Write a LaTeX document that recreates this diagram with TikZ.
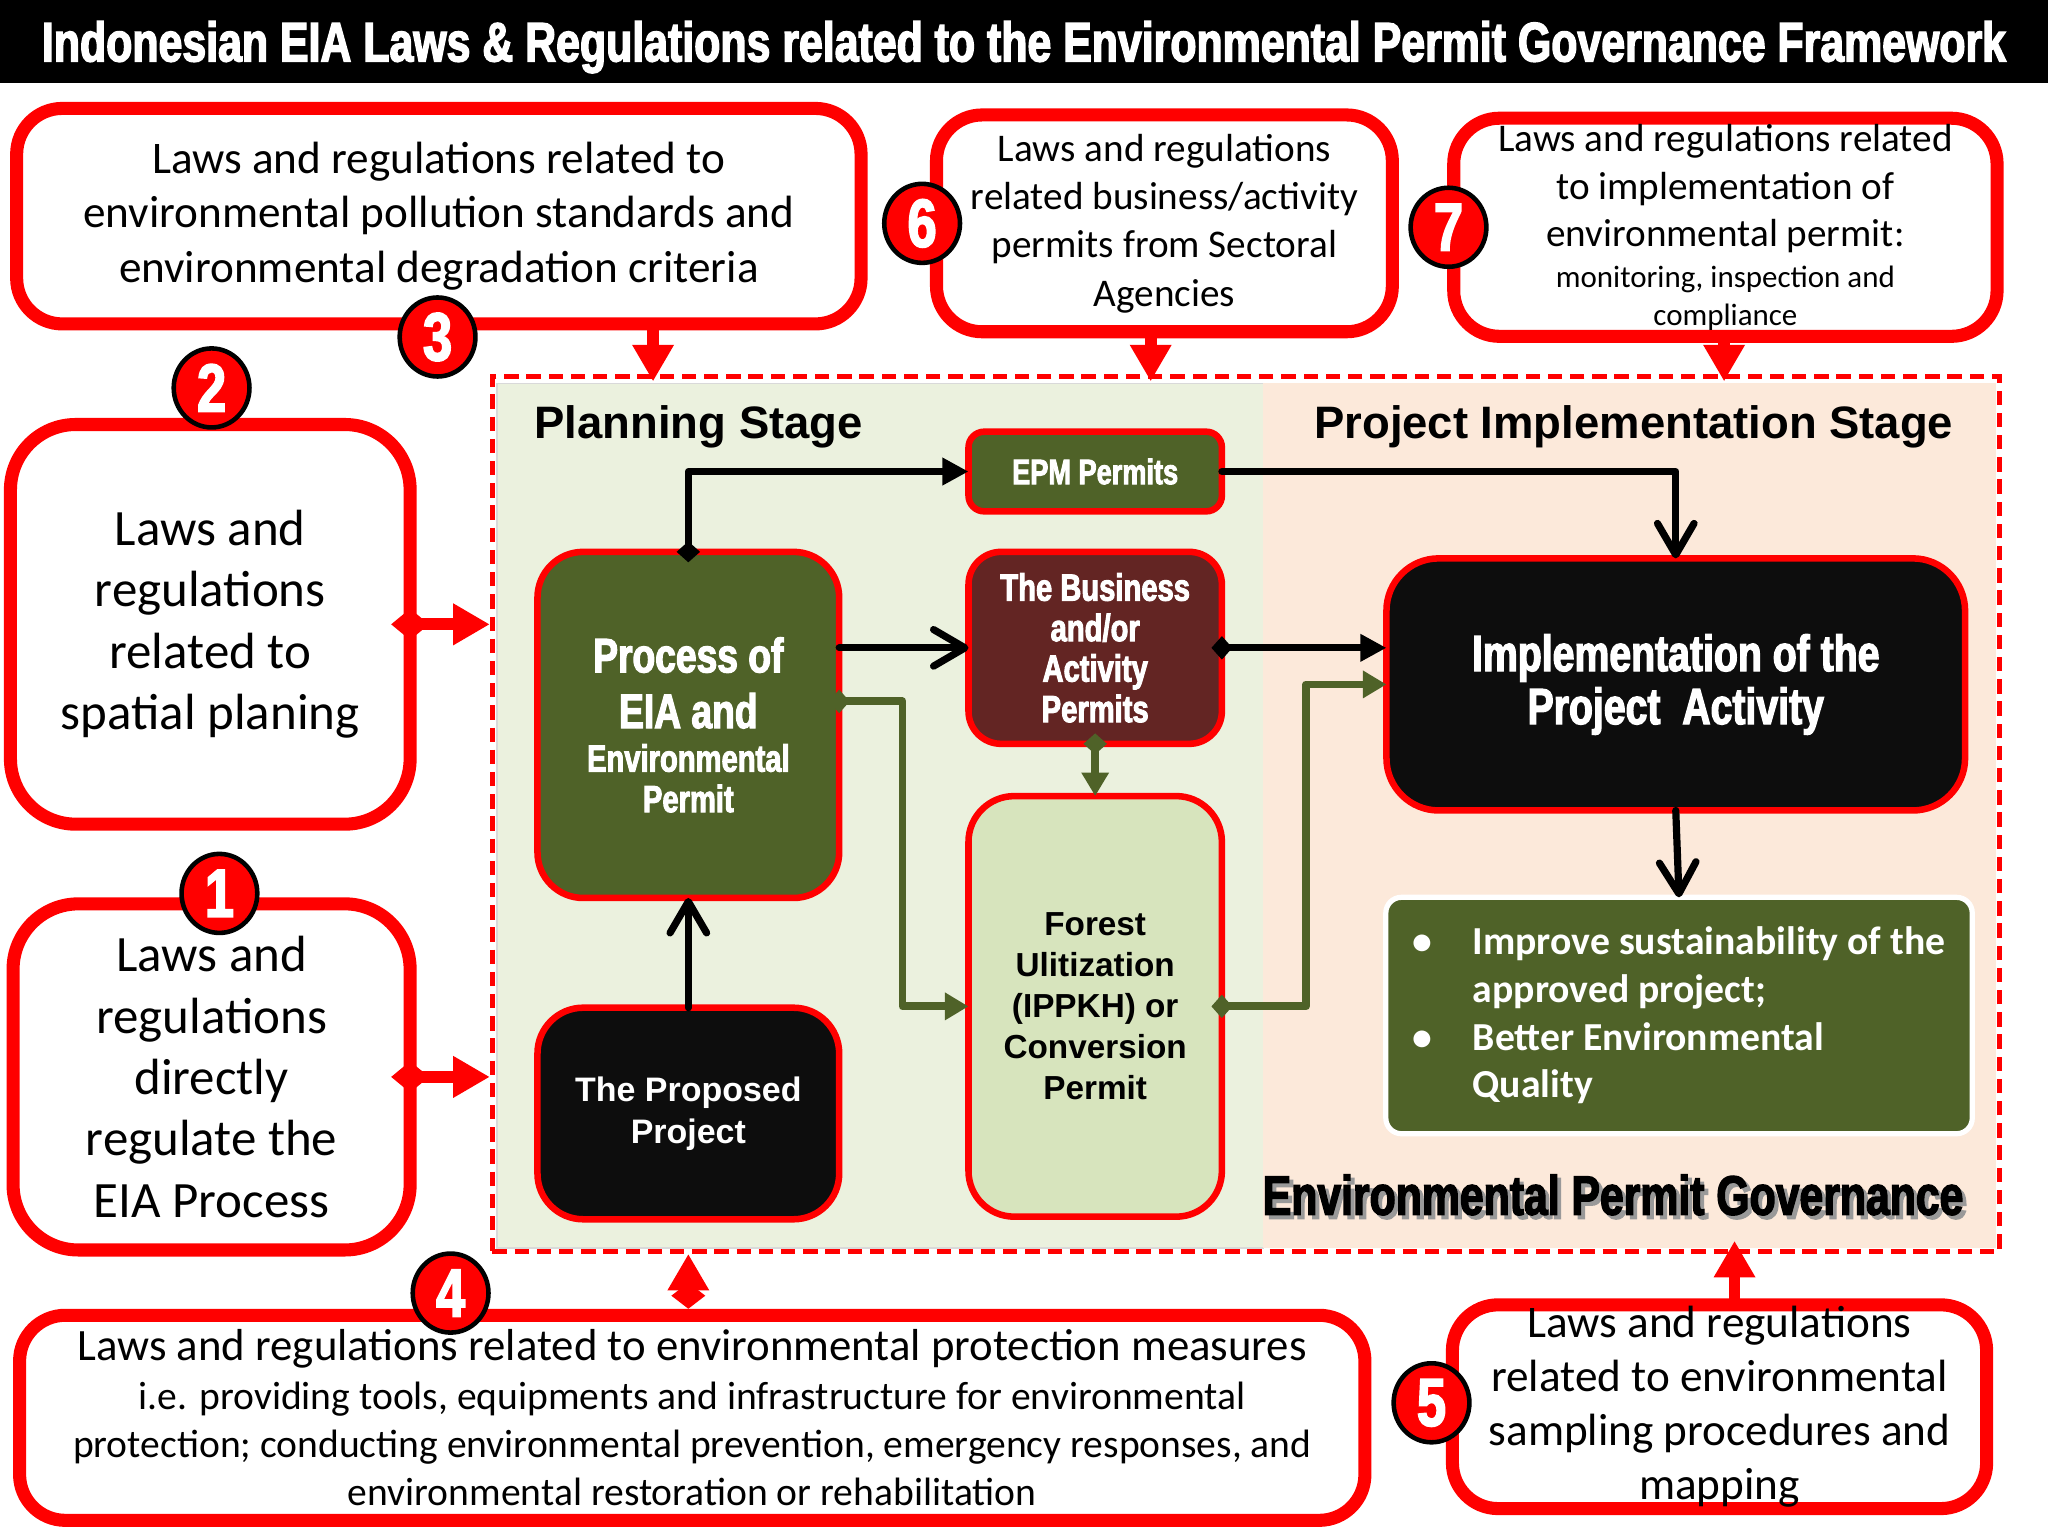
\documentclass[tikz,border=0pt]{standalone}
\usepackage{fontspec}
\setmainfont{Carlito}
\newfontfamily\imp{Liberation Sans}[FakeStretch=0.77,BoldFeatures={FakeBold=2.5}]
\newfontfamily\arl{Liberation Sans}
\usetikzlibrary{arrows.meta,shapes.geometric,calc}
\definecolor{oliv}{RGB}{79,98,40}
\definecolor{maroonc}{RGB}{99,37,35}
\definecolor{planbg}{RGB}{235,241,222}
\definecolor{implbg}{RGB}{252,233,218}
\definecolor{forestc}{RGB}{215,228,189}
\definecolor{nearblack}{RGB}{13,13,13}
\begin{document}
\begin{tikzpicture}[x=1pt,y=-1pt,
  lawbox/.style={draw=red, line width=10pt, fill=white, rounded corners=35pt, inner sep=0pt, outer sep=0pt, align=center, text=black},
  badge/.style={ellipse, draw=black, fill=red, line width=3.5pt, minimum width=58pt, minimum height=60.5pt, inner sep=0pt, outer sep=0pt, text=white, font=\imp\bfseries\fontsize{52}{52}\selectfont},
  ibox/.style={draw=red, line width=5pt, inner sep=0pt, outer sep=0pt, align=center},
  stagelbl/.style={inner sep=0pt, font=\arl\bfseries\fontsize{34.8}{40}\selectfont},
  blk/.style={draw=black, line width=5.5pt, line cap=round, line join=round},
  olv/.style={draw=oliv, line width=6pt, line join=round},
  rd/.style={draw=red, line width=9pt},
  barb/.tip={Straight Barb[length=24pt,width=28pt,round]},
  btri/.tip={Triangle[length=20pt,width=20pt]},
  bdia/.tip={Diamond[length=16pt,width=18pt]},
  otri/.tip={Triangle[length=18pt,width=20pt]},
  rtri/.tip={Triangle[length=28pt,width=30pt]},
  rdia/.tip={Diamond[length=29pt,width=24pt]}
]
\useasboundingbox (0,0) rectangle (1568,1176);
\fill[white] (0,0) rectangle (1568,1176);

% title
\node[fill=black, minimum width=1568pt, minimum height=63pt, inner sep=0pt, anchor=north west] (bar) at (0,0) {};
\node[anchor=base, inner sep=0pt, text=white, font=\imp\bfseries\fontsize{42.6}{46}\selectfont] (title) at (784,47) {Indonesian EIA Laws \& Regulations related to the Environmental Permit Governance Framework};

% stage backgrounds and frame
\node[fill=planbg, draw=black!15, line width=1pt, minimum width=587pt, minimum height=662pt, inner sep=0pt, anchor=north west] (plan) at (380,293) {};
\node[fill=implbg, minimum width=561pt, minimum height=662pt, inner sep=0pt, anchor=north west] (implbg) at (967,293) {};
\node[draw=red, line width=4pt, dash pattern=on 11pt off 6pt, minimum width=1154pt, minimum height=670pt, inner sep=0pt] (frame) at (954,623) {};

\node[stagelbl, anchor=base west] (pl) at (409,335.5) {Planning Stage};
\node[stagelbl, anchor=base west] (pil) at (1006,335.5) {Project Implementation Stage};

% law boxes
\node[lawbox, minimum width=646.5pt, minimum height=165pt, font=\fontsize{34.6}{41.5}\selectfont] (b3) at (336,165.5)
 {Laws and regulations related to\\environmental pollution standards and\\environmental degradation criteria};
\node[lawbox, minimum width=349pt, minimum height=166pt, font=\fontsize{30}{37}\selectfont] (b6) at (891.5,171)
 {Laws and regulations\\related business/activity\\permits from Sectoral\\Agencies};
\node[lawbox, minimum width=416pt, minimum height=167pt, font=\fontsize{30}{36.5}\selectfont] (b7) at (1321,174)
 {Laws and regulations related\\to implementation of\\environmental permit:\\[-5.5pt]\fontsize{23.7}{36.5}\selectfont monitoring, inspection and\\[-7.5pt]\fontsize{23.7}{36.5}\selectfont compliance};
\node[lawbox, rounded corners=50pt, minimum width=306pt, minimum height=306pt, font=\fontsize{39}{47}\selectfont] (b2) at (161,478)
 {Laws and\\regulations\\related to\\spatial planing};
\node[lawbox, rounded corners=50pt, minimum width=304pt, minimum height=265pt, font=\fontsize{39}{47}\selectfont] (b1) at (162,824.5)
 {Laws and\\regulations\\directly\\regulate the\\EIA Process};
\node[lawbox, minimum width=1030pt, minimum height=157pt, font=\fontsize{30.3}{37}\selectfont] (b4) at (530,1085.5)
 {\fontsize{34.3}{37}\selectfont Laws and regulations related to environmental protection measures\\\fontsize{30.3}{37}\selectfont i.e. providing tools, equipments and infrastructure for environmental\\protection; conducting environmental prevention, emergency responses, and\\environmental restoration or rehabilitation};
\node[lawbox, minimum width=409pt, minimum height=156pt, font=\fontsize{34.6}{41.5}\selectfont] (b5) at (1316.5,1077)
 {Laws and regulations\\related to environmental\\sampling procedures and\\mapping};

% badges
\node[badge] (n3) at (335,258) {3};
\node[badge] (n6) at (706,171) {6};
\node[badge] (n7) at (1109,174) {7};
\node[badge] (n2) at (162,297) {2};
\node[badge] (n1) at (168,684) {1};
\node[badge] (n4) at (345,990) {4};
\node[badge] (n5) at (1096,1074) {5};

% inner process nodes
\node[ibox, fill=oliv, rounded corners=12pt, minimum width=194pt, minimum height=61pt, text=white, font=\imp\bfseries\fontsize{27}{31}\selectfont] (epm) at (838.5,361) {EPM Permits};
\node[ibox, fill=oliv, rounded corners=35pt, minimum width=231pt, minimum height=265pt, text=white, font=\imp\bfseries\fontsize{37}{31}\selectfont] (proc) at (527,555)
 {\fontsize{37}{31}\selectfont Process of\\[11.6pt]\fontsize{37}{31}\selectfont EIA and\\[2.4pt]\fontsize{29}{31}\selectfont Environmental\\\fontsize{29}{31}\selectfont Permit};
\node[ibox, fill=maroonc, rounded corners=25pt, minimum width=194pt, minimum height=147pt, text=white, font=\imp\bfseries\fontsize{29}{31}\selectfont] (bus) at (838.5,496)
 {The Business\\and/or\\Activity\\Permits};
\node[ibox, fill=forestc, rounded corners=35pt, minimum width=194pt, minimum height=322pt, text=black, font=\arl\bfseries\fontsize{25.5}{31.4}\selectfont] (forest) at (838.5,770.5)
 {Forest\\Ulitization\\(IPPKH) or\\Conversion\\Permit};
\node[ibox, fill=nearblack, rounded corners=35pt, minimum width=231pt, minimum height=162pt, text=white, font=\arl\bfseries\fontsize{26}{32}\selectfont] (prop) at (527,852.5)
 {The Proposed\\Project};
\node[ibox, fill=nearblack, rounded corners=40pt, minimum width=443pt, minimum height=193pt, text=white, font=\imp\bfseries\fontsize{39}{40.6}\selectfont] (impl) at (1283,524)
 {Implementation of the\\Project~~Activity};
\node[draw=white, line width=4pt, fill=oliv, rounded corners=12pt, minimum width=449pt, minimum height=181pt, inner sep=0pt, outer sep=0pt, align=left, text=white, font=\bfseries\fontsize{30.4}{36.5}\selectfont] (out) at (1285.5,777.5)
 {\makebox[46pt][l]{\textbullet}Improve sustainability of the\\\hspace*{46pt}approved project;\\\makebox[46pt][l]{\textbullet}Better Environmental\\\hspace*{46pt}Quality};

% governance label with shadow
\node[anchor=base, inner sep=0pt, text=black!40, font=\imp\bfseries\fontsize{42.5}{46}\selectfont] (epgsh) at (1238,933) {Environmental Permit Governance};
\node[anchor=base, inner sep=0pt, text=black, font=\imp\bfseries\fontsize{42.5}{46}\selectfont] (epg) at (1235,930) {Environmental Permit Governance};

% black connectors
\draw[blk, {bdia}-{btri}] ([yshift=-8pt]proc.north) |- (epm.west);
\draw[blk, -{barb}] (epm.east) -| (impl.north);
\draw[blk, -{barb}] (proc.east |- bus.west) -- (bus.west);
\draw[blk, {bdia}-{btri}] ([xshift=-8pt]bus.east) -- (impl.west |- bus.east);
\draw[blk, -{barb}] (impl.south) -- (out.north);
\draw[blk, -{barb}] (prop.north) -- (proc.south);

% olive connectors
\coordinate (k1x) at (691,0);
\coordinate (k2x) at (1000,0);
\draw[olv, {bdia}-{otri}] ([yshift=8pt]bus.south) -- (forest.north);
\draw[olv, {bdia}-{otri}] ([xshift=-8pt,yshift=18pt]proc.east) -| (k1x |- forest.west) -- (forest.west);
\draw[olv, {bdia}-{otri}] ([xshift=-8pt]forest.east) -| (k2x |- impl.west) -- (impl.west);

% red connectors
\coordinate (x3) at (500,0);
\coordinate (x6) at (881,0);
\coordinate (x7) at (1320,0);
\coordinate (x4) at (527,0);
\coordinate (x5) at (1328,0);
\draw[rd, {rdia}-{rtri}] ([xshift=-14.5pt]b2.east) -- (frame.west |- b2.east);
\draw[rd, {rdia}-{rtri}] ([xshift=-14.5pt]b1.east) -- (frame.west |- b1.east);
\draw[rd, -{rtri}, shorten >=-6pt] (b3.south -| x3) -- (frame.north -| x3);
\draw[rd, -{rtri}, shorten >=-6pt] (b6.south -| x6) -- (frame.north -| x6);
\draw[rd, -{rtri}, shorten >=-6pt] (b7.south -| x7) -- (frame.north -| x7);
\draw[rd, {Diamond[length=20pt,width=26pt]}-{rtri}] ($(b4.north -| x4)+(0,-5)$) -- (frame.south -| x4);
\draw[rd, -{rtri}, shorten >=-10pt] (b5.north -| x5) -- (frame.south -| x5);
\end{tikzpicture}
\end{document}
